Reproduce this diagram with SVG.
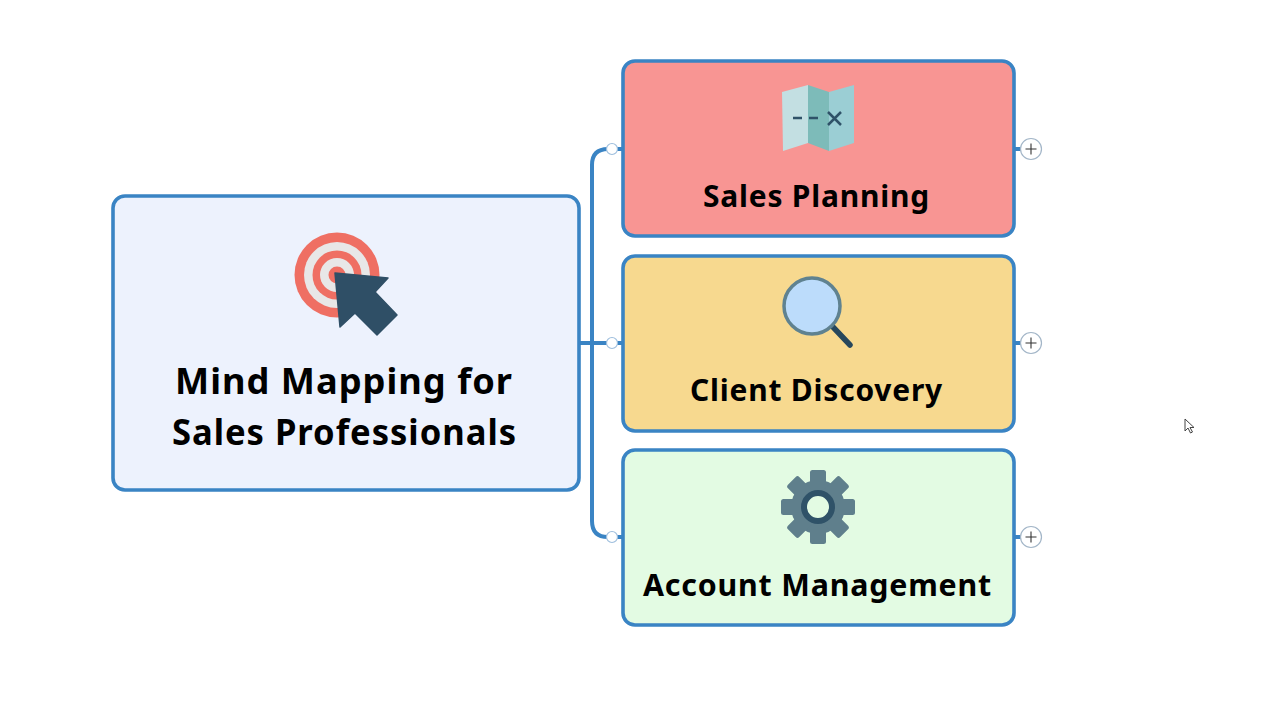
<svg xmlns="http://www.w3.org/2000/svg" width="1280" height="720" viewBox="0 0 1280 720">
<style>
.box{stroke:#3a84c4;stroke-width:3.6}
.t{font-family:"Noto Sans","Open Sans",sans-serif;font-weight:700;fill:#000;text-anchor:middle}
.main{font-size:36px;letter-spacing:1px}
.sub{font-size:30px;letter-spacing:.8px}
.line{fill:none;stroke:#3a84c4;stroke-width:4}
.dot{fill:#fff;stroke:#9dbedd;stroke-width:1.2}
.plus{fill:#fff;stroke:#a3b6c8;stroke-width:1.2}
.pm{stroke:#333;stroke-width:1.1;fill:none}
</style>
<rect width="1280" height="720" fill="#fff"/>
<g id="connectors">
<path class="line" d="M580 343H622M622 149H608Q592 149 592 165V521Q592 537 608 537H622"/>
<path class="line" d="M1015 149H1022M1015 343H1022M1015 537H1022"/>
<circle class="dot" cx="612" cy="149" r="5.5"/>
<circle class="dot" cx="612" cy="343" r="5.5"/>
<circle class="dot" cx="612" cy="537" r="5.5"/>
</g>
<g id="node-main">
<rect class="box" x="113" y="196" width="466" height="294" rx="12" fill="#edf2fd"/>
<circle cx="337" cy="275" r="42.500" fill="#ef6f63"/>
<circle cx="337" cy="275" r="33" fill="#e8e7e7"/>
<circle cx="337" cy="275" r="24.500" fill="#ef6f63"/>
<circle cx="337" cy="275" r="17" fill="#e8e7e7"/>
<circle cx="337" cy="275" r="8.500" fill="#ef6f63"/>
<path d="M335 273L388 278L375 292L397 315L377 335L355 313L340 327Z" fill="#2f4f66" stroke="#2f4f66" stroke-width="1.500" stroke-linejoin="round"/>
<text class="t main" x="344" y="393.500" textLength="338" lengthAdjust="spacingAndGlyphs">Mind Mapping for</text>
<text class="t main" x="344.500" y="444.500" textLength="345" lengthAdjust="spacingAndGlyphs">Sales Professionals</text>
</g>
<g id="node-sales-planning">
<rect class="box" x="623" y="61" width="391" height="175" rx="12" fill="#f89593"/>
<path d="M782 92L808 85V143L783 151Z" fill="#c3dfe2"/>
<path d="M808 85L829 92V151L808 143Z" fill="#7dbbb9"/>
<path d="M829 92L854 85V143L829 151Z" fill="#9bced4"/>
<path d="M793 118H802M809 118H818M828 112L841 125M841 112L828 125" fill="none" stroke="#2f5268" stroke-width="2.500"/>
<text class="t sub" x="816.500" y="206.500" textLength="227" lengthAdjust="spacingAndGlyphs">Sales Planning</text>
</g>
<g id="node-client-discovery">
<rect class="box" x="623" y="256" width="391" height="175" rx="12" fill="#f7d98f"/>
<path d="M833 327L850 345" fill="none" stroke="#27475c" stroke-width="5.500" stroke-linecap="round"/>
<circle cx="812" cy="306" r="28" fill="#bcdcfb" stroke="#5f8290" stroke-width="3.500"/>
<text class="t sub" x="816.500" y="400.500" textLength="253" lengthAdjust="spacingAndGlyphs">Client Discovery</text>
</g>
<g id="node-account-management">
<rect class="box" x="623" y="450" width="391" height="175" rx="12" fill="#e3fbe3"/>
<g fill="#5f7f8c">
<circle cx="818" cy="507" r="27"/>
<rect x="810" y="470" width="16" height="74" rx="2.500"/>
<rect x="810" y="470" width="16" height="74" rx="2.500" transform="rotate(45 818 507)"/>
<rect x="810" y="470" width="16" height="74" rx="2.500" transform="rotate(90 818 507)"/>
<rect x="810" y="470" width="16" height="74" rx="2.500" transform="rotate(135 818 507)"/>
</g>
<circle cx="818" cy="507" r="14" fill="#e3fbe3" stroke="#2f5268" stroke-width="6"/>
<text class="t sub" x="817.500" y="595.500" textLength="349" lengthAdjust="spacingAndGlyphs">Account Management</text>
</g>
<g id="toggle-1"><circle class="plus" cx="1031" cy="149" r="10.500"/><path class="pm" d="M1025.500 149H1036.500M1031 143.500V154.500"/></g>
<g id="toggle-2"><circle class="plus" cx="1031" cy="343" r="10.500"/><path class="pm" d="M1025.500 343H1036.500M1031 337.500V348.500"/></g>
<g id="toggle-3"><circle class="plus" cx="1031" cy="537" r="10.500"/><path class="pm" d="M1025.500 537H1036.500M1031 531.500V542.500"/></g>
<path id="cursor" d="M1185 419V431L1188 428L1190.500 433L1192.500 432L1190 427.500H1194Z" fill="#fff" stroke="#444" stroke-width="1"/>
</svg>
